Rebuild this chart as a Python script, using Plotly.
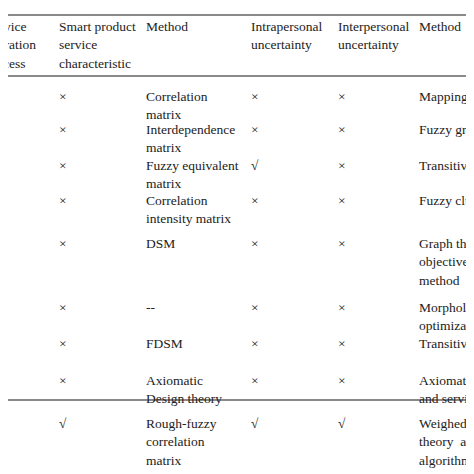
import plotly.graph_objects as go

group_headers = ["Service components", "Correlation evaluation for service components", "Service modularization"]
col_headers = [["Service", "operation", "process"], ["Smart product", "service", "characteristic"], ["Method"],
               ["Intrapersonal", "uncertainty"], ["Interpersonal", "uncertainty"], ["Method"]]
smart_char = ["×", "×", "×", "×", "×", "×", "×", "×", "√"]
methods = [["Correlation", "matrix"], ["Interdependence", "matrix"], ["Fuzzy equivalent", "matrix"],
           ["Correlation", "intensity matrix"], ["DSM"], ["--"], ["FDSM"], ["Axiomatic", "Design theory"],
           ["Rough-fuzzy", "correlation", "matrix"]]
intra = ["×", "×", "√", "×", "×", "×", "×", "×", "√"]
inter = ["×", "×", "×", "×", "×", "×", "×", "×", "√"]
mod_methods = [["Mapping relationship"], ["Fuzzy graph"], ["Transitive closure"], ["Fuzzy clustering"],
               ["Graph theory +", "objective", "method"], ["Morphological", "optimization"], ["Transitive closure"],
               ["Axiomatic design", "and service"], ["Weighed complex", "theory  and", "algorithm"]]
row_tops = [96, 129, 165, 200, 243, 307, 343, 380, 423]

FONT = dict(family="Liberation Serif, Times New Roman, serif", size=13.5, color="#222")
LH = 18.7
anns = []
def txt(x, y, s, anchor="left"):
    anns.append(dict(x=x, y=y, text=s, showarrow=False, xanchor=anchor, yanchor="middle",
                     xref="x", yref="y", font=FONT, borderpad=0))

txt(81, 6, group_headers[0], "right"); txt(145, 6, group_headers[1]); txt(418, 6, group_headers[2])
for i, (l, xe) in enumerate(zip(col_headers[0], [27, 37, 27])):
    txt(xe, 26 + i * LH, l, "right")
for x, lines in zip([58, 145, 250, 337, 418], col_headers[1:]):
    for i, l in enumerate(lines):
        txt(x, 26 + i * LH, l)
for r, y0 in enumerate(row_tops):
    txt(58, y0, smart_char[r]); txt(250, y0, intra[r]); txt(337, y0, inter[r])
    for i, l in enumerate(methods[r]):
        txt(145, y0 + i * LH, l)
    for i, l in enumerate(mod_methods[r]):
        txt(418, y0 + i * LH, l)

shapes = [dict(type="line", xref="x", yref="y", x0=0, x1=490, y0=y, y1=y,
               line=dict(color="#8a8a8a", width=2)) for y in [15, 76, 400]]

fig = go.Figure()
fig.update_layout(width=474, height=474, margin=dict(l=0, r=0, t=0, b=0),
                  paper_bgcolor="white", plot_bgcolor="white", annotations=anns, shapes=shapes,
                  xaxis=dict(range=[8, 482], visible=False, fixedrange=True),
                  yaxis=dict(range=[482, 8], visible=False, fixedrange=True), showlegend=False)
fig.write_html("out.html", config={"displayModeBar": False})
